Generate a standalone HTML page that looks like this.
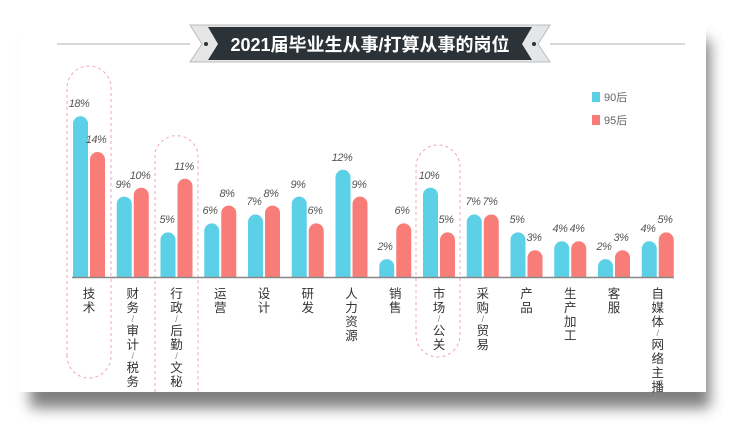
<!DOCTYPE html>
<html><head><meta charset="utf-8"><style>
html,body{margin:0;padding:0;background:#fff;}
svg{display:block;font-family:"Liberation Sans","Noto Sans CJK SC",sans-serif;}
</style></head><body>
<svg width="751" height="439" viewBox="0 0 751 439" xmlns="http://www.w3.org/2000/svg">
<defs>
<filter id="sh" x="-10%" y="-10%" width="130%" height="140%">
<feGaussianBlur stdDeviation="7"/>
</filter>
</defs>
<rect x="0" y="0" width="751" height="439" fill="#fff"/>
<rect x="30" y="40" width="680" height="368" fill="#555" opacity="0.75" filter="url(#sh)"/>
<rect x="19" y="19" width="687" height="373" fill="#fff"/>
<line x1="57" y1="44" x2="190" y2="44" stroke="#ccc" stroke-width="1.5"/>
<line x1="550" y1="44" x2="685" y2="44" stroke="#ccc" stroke-width="1.5"/>
<polygon points="190,25 550,25 538,44 550,62 190,62 202,44" fill="#e4e6e7" stroke="#bbb" stroke-width="1"/>
<polygon points="208,27 532,27 522,44 532,60 208,60 218,44" fill="#2b3338"/>
<circle cx="206" cy="44" r="2" fill="#2b3338"/>
<circle cx="534" cy="44" r="2" fill="#2b3338"/>
<text x="370" y="51" text-anchor="middle" font-size="18" font-weight="bold" fill="#fff">2021届毕业生从事/打算从事的岗位</text>
<rect x="592" y="92" width="8" height="10" fill="#5bd0e6"/>
<text x="604" y="101" font-size="11" fill="#666">90后</text>
<rect x="592" y="115" width="8" height="10" fill="#f87d78"/>
<text x="604" y="124" font-size="11" fill="#666">95后</text>
<g fill="none" stroke="#f0a8b0" stroke-width="1" stroke-dasharray="3,3">
<path d="M67,356 L67,88 A22,22 0 0 1 111,88 L111,356 A22,22 0 0 1 67,356"/>
<path d="M155,392 L155,153 A22,22 0 0 1 198,153 L198,392"/>
<path d="M416,335 L416,167 A22,22 0 0 1 460,167 L460,335 A22,22 0 0 1 416,335"/>
</g>
<g fill="#5bd0e6">
<path d="M73,277V123.8a7.5,7.5 0 0 1 15,0V277Z"/>
<path d="M116.75,277V204.1a7.5,7.5 0 0 1 15,0V277Z"/>
<path d="M160.5,277V239.9a7.5,7.5 0 0 1 15,0V277Z"/>
<path d="M204.25,277V230.9a7.5,7.5 0 0 1 15,0V277Z"/>
<path d="M248,277V222a7.5,7.5 0 0 1 15,0V277Z"/>
<path d="M291.75,277V204.1a7.5,7.5 0 0 1 15,0V277Z"/>
<path d="M335.5,277V177.3a7.5,7.5 0 0 1 15,0V277Z"/>
<path d="M379.25,277V266.6a7.5,7.5 0 0 1 15,0V277Z"/>
<path d="M423,277V195.2a7.5,7.5 0 0 1 15,0V277Z"/>
<path d="M466.75,277V222a7.5,7.5 0 0 1 15,0V277Z"/>
<path d="M510.5,277V239.9a7.5,7.5 0 0 1 15,0V277Z"/>
<path d="M554.25,277V248.8a7.5,7.5 0 0 1 15,0V277Z"/>
<path d="M598,277V266.6a7.5,7.5 0 0 1 15,0V277Z"/>
<path d="M641.75,277V248.8a7.5,7.5 0 0 1 15,0V277Z"/>
</g>
<g fill="#f87d78">
<path d="M90,277V159.5a7.5,7.5 0 0 1 15,0V277Z"/>
<path d="M133.75,277V195.2a7.5,7.5 0 0 1 15,0V277Z"/>
<path d="M177.5,277V186.3a7.5,7.5 0 0 1 15,0V277Z"/>
<path d="M221.25,277V213.1a7.5,7.5 0 0 1 15,0V277Z"/>
<path d="M265,277V213.1a7.5,7.5 0 0 1 15,0V277Z"/>
<path d="M308.75,277V230.9a7.5,7.5 0 0 1 15,0V277Z"/>
<path d="M352.5,277V204.1a7.5,7.5 0 0 1 15,0V277Z"/>
<path d="M396.25,277V230.9a7.5,7.5 0 0 1 15,0V277Z"/>
<path d="M440,277V239.9a7.5,7.5 0 0 1 15,0V277Z"/>
<path d="M483.75,277V222a7.5,7.5 0 0 1 15,0V277Z"/>
<path d="M527.5,277V257.7a7.5,7.5 0 0 1 15,0V277Z"/>
<path d="M571.25,277V248.8a7.5,7.5 0 0 1 15,0V277Z"/>
<path d="M615,277V257.7a7.5,7.5 0 0 1 15,0V277Z"/>
<path d="M658.75,277V239.9a7.5,7.5 0 0 1 15,0V277Z"/>
</g>
<line x1="72" y1="277.5" x2="674" y2="277.5" stroke="#888" stroke-width="1.5"/>
<g font-size="11" font-style="italic" fill="#555" text-anchor="middle" letter-spacing="-0.5">
<text x="79" y="107">18%</text><text x="96" y="143">14%</text>
<text x="123" y="188">9%</text><text x="140" y="179">10%</text>
<text x="167" y="223">5%</text><text x="184" y="170">11%</text>
<text x="210" y="214">6%</text><text x="227" y="197">8%</text>
<text x="254" y="205">7%</text><text x="271" y="197">8%</text>
<text x="298" y="188">9%</text><text x="315" y="214">6%</text>
<text x="342" y="161">12%</text><text x="359" y="188">9%</text>
<text x="385" y="250">2%</text><text x="402" y="214">6%</text>
<text x="429" y="179">10%</text><text x="446" y="223">5%</text>
<text x="473" y="205">7%</text><text x="490" y="205">7%</text>
<text x="517" y="223">5%</text><text x="534" y="241">3%</text>
<text x="560" y="232">4%</text><text x="577" y="232">4%</text>
<text x="604" y="250">2%</text><text x="621" y="241">3%</text>
<text x="648" y="232">4%</text><text x="665" y="223">5%</text>
</g>
<g font-size="12.5" fill="#333" text-anchor="middle">
<text x="89" y="298"><tspan x="89">技</tspan><tspan x="89" dy="14">术</tspan></text>
<text x="132.75" y="298"><tspan x="132.75">财</tspan><tspan x="132.75" dy="14">务</tspan><tspan x="132.75" dy="10" font-size="9" fill="#888">/</tspan><tspan x="132.75" dy="13">审</tspan><tspan x="132.75" dy="14">计</tspan><tspan x="132.75" dy="10" font-size="9" fill="#888">/</tspan><tspan x="132.75" dy="13">税</tspan><tspan x="132.75" dy="14">务</tspan></text>
<text x="176.5" y="298"><tspan x="176.5">行</tspan><tspan x="176.5" dy="14">政</tspan><tspan x="176.5" dy="10" font-size="9" fill="#888">/</tspan><tspan x="176.5" dy="13">后</tspan><tspan x="176.5" dy="14">勤</tspan><tspan x="176.5" dy="10" font-size="9" fill="#888">/</tspan><tspan x="176.5" dy="13">文</tspan><tspan x="176.5" dy="14">秘</tspan></text>
<text x="220.25" y="298"><tspan x="220.25">运</tspan><tspan x="220.25" dy="14">营</tspan></text>
<text x="264" y="298"><tspan x="264">设</tspan><tspan x="264" dy="14">计</tspan></text>
<text x="307.75" y="298"><tspan x="307.75">研</tspan><tspan x="307.75" dy="14">发</tspan></text>
<text x="351.5" y="298"><tspan x="351.5">人</tspan><tspan x="351.5" dy="14">力</tspan><tspan x="351.5" dy="14">资</tspan><tspan x="351.5" dy="14">源</tspan></text>
<text x="395.25" y="298"><tspan x="395.25">销</tspan><tspan x="395.25" dy="14">售</tspan></text>
<text x="439" y="298"><tspan x="439">市</tspan><tspan x="439" dy="14">场</tspan><tspan x="439" dy="10" font-size="9" fill="#888">/</tspan><tspan x="439" dy="13">公</tspan><tspan x="439" dy="14">关</tspan></text>
<text x="482.75" y="298"><tspan x="482.75">采</tspan><tspan x="482.75" dy="14">购</tspan><tspan x="482.75" dy="10" font-size="9" fill="#888">/</tspan><tspan x="482.75" dy="13">贸</tspan><tspan x="482.75" dy="14">易</tspan></text>
<text x="526.5" y="298"><tspan x="526.5">产</tspan><tspan x="526.5" dy="14">品</tspan></text>
<text x="570.25" y="298"><tspan x="570.25">生</tspan><tspan x="570.25" dy="14">产</tspan><tspan x="570.25" dy="14">加</tspan><tspan x="570.25" dy="14">工</tspan></text>
<text x="614" y="298"><tspan x="614">客</tspan><tspan x="614" dy="14">服</tspan></text>
<text x="657.75" y="298"><tspan x="657.75">自</tspan><tspan x="657.75" dy="14">媒</tspan><tspan x="657.75" dy="14">体</tspan><tspan x="657.75" dy="10" font-size="9" fill="#888">/</tspan><tspan x="657.75" dy="13">网</tspan><tspan x="657.75" dy="14">络</tspan><tspan x="657.75" dy="14">主</tspan><tspan x="657.75" dy="14">播</tspan></text>
</g>
</svg>
</body></html>
